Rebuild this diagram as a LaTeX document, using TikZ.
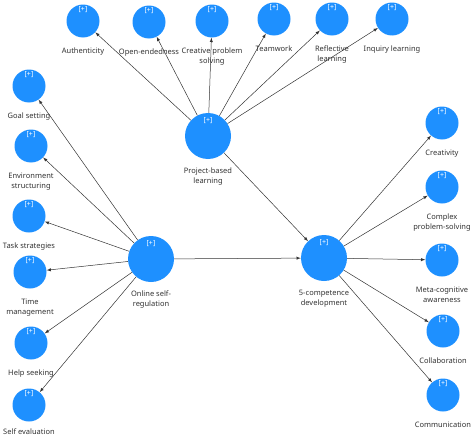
\documentclass[tikz,border=0pt]{standalone}
\usepackage{fontspec}
\setmainfont{Noto Sans}
\definecolor{nodeblue}{RGB}{30,144,255}
\definecolor{txtgray}{RGB}{50,50,50}

\begin{document}
\begin{tikzpicture}[x=1pt, y=-1pt, >=latex,
	ind/.style={circle, fill=nodeblue, minimum size=33pt, inner sep=0pt,
		label={[plus, yshift=11pt]center:{[+]}}},
	lat/.style={circle, fill=nodeblue, minimum size=46pt, inner sep=0pt,
		label={[plus, yshift=15pt]center:{[+]}}},
	plus/.style={text=white, font=\fontsize{7}{8}\selectfont},
	lbl/.style={text=txtgray, align=center, yshift=-7pt, font=\fontsize{7.5}{9.5}\selectfont},
	arr/.style={->, draw=black!80, line width=0.5pt}
]
	\useasboundingbox (0,0) rectangle (474,439);

	% latent variables
	\node[lat, label={[lbl, yshift=1.5pt]below:Project-based\\learning}] (pbl) at (208,136) {};
	\node[lat, label={[lbl, yshift=1.5pt]below:Online self-\\regulation}] (osr) at (151,259) {};
	\node[lat, label={[lbl, yshift=1.5pt]below:5-competence\\development}] (fcd) at (324,258) {};

	% project-based learning indicators
	\node[ind, label={[lbl]below:Authenticity}] (auth) at (83,21) {};
	\node[ind, label={[lbl]below:Open-endedness}] (open) at (149,22) {};
	\node[ind, label={[lbl]below:Creative problem\\solving}] (cps) at (212,21) {};
	\node[ind, label={[lbl]below:Teamwork}] (team) at (274,19) {};
	\node[ind, label={[lbl]below:Reflective\\learning}] (refl) at (332,19) {};
	\node[ind, label={[lbl]below:Inquiry learning}] (inq) at (392,19) {};

	% online self-regulation indicators
	\node[ind, label={[lbl]below:Goal setting}] (goal) at (29,86) {};
	\node[ind, label={[lbl]below:Environment\\structuring}] (env) at (31,146) {};
	\node[ind, label={[lbl]below:Task strategies}] (task) at (29,216) {};
	\node[ind, label={[lbl]below:Time\\management}] (time) at (30,272) {};
	\node[ind, label={[lbl]below:Help seeking}] (help) at (31,343) {};
	\node[ind, label={[lbl, yshift=3pt]below:Self evaluation}] (self) at (29,405) {};

	% 5-competence indicators
	\node[ind, label={[lbl]below:Creativity}] (crea) at (442,123) {};
	\node[ind, label={[lbl]below:Complex\\problem-solving}] (comp) at (442,187) {};
	\node[ind, label={[lbl]below:Meta-cognitive\\awareness}] (meta) at (442,260) {};
	\node[ind, label={[lbl]below:Collaboration}] (coll) at (443,331) {};
	\node[ind, label={[lbl]below:Communication}] (comm) at (443,395) {};

	\draw[arr] (pbl) -- (auth);
	\draw[arr] (pbl) -- (open);
	\draw[arr] (pbl) -- (cps);
	\draw[arr] (pbl) -- (team);
	\draw[arr] (pbl) -- (refl);
	\draw[arr] (pbl) -- (inq);

	\draw[arr] (osr) -- (goal);
	\draw[arr] (osr) -- (env);
	\draw[arr] (osr) -- (task);
	\draw[arr] (osr) -- (time);
	\draw[arr] (osr) -- (help);
	\draw[arr] (osr) -- (self);

	\draw[arr] (fcd) -- (crea);
	\draw[arr] (fcd) -- (comp);
	\draw[arr] (fcd) -- (meta);
	\draw[arr] (fcd) -- (coll);
	\draw[arr] (fcd) -- (comm);

	\draw[arr] (pbl) -- (fcd);
	\draw[arr] (osr) -- (fcd);
\end{tikzpicture}
\end{document}
